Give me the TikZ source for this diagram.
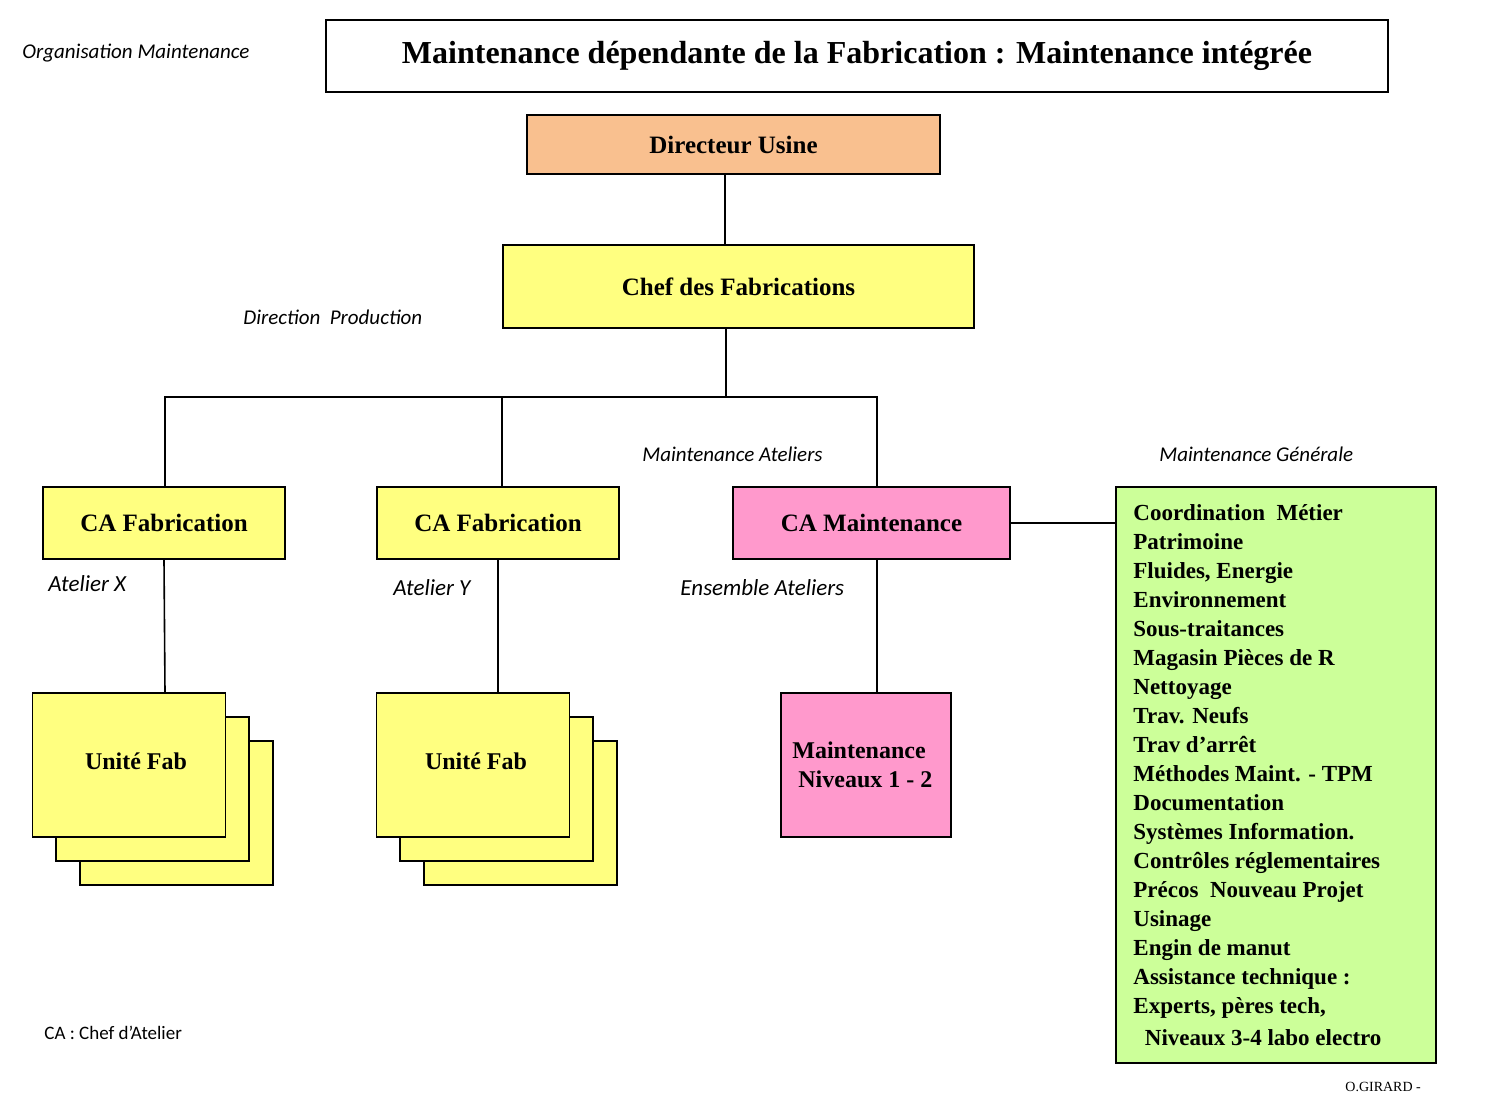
\documentclass[tikz,border=0pt]{standalone}
\usepackage{fontspec}
\setmainfont{Liberation Serif}
\newfontfamily\calfnt{Carlito}
\definecolor{orng}{HTML}{F9C08F}
\definecolor{yel}{HTML}{FFFF80}
\definecolor{pnk}{HTML}{FF99CC}
\definecolor{grn}{HTML}{CCFF99}
\begin{document}
\begin{tikzpicture}[x=0.5pt,y=-0.5pt,
 box/.style={draw=black,line width=0.6pt,inner sep=0pt,font=\bfseries\fontsize{12.5}{14}\selectfont},
 lbl/.style={font=\calfnt\itshape\fontsize{10.5}{12}\selectfont,inner sep=0pt},
 ln/.style={line width=0.8pt}]
\useasboundingbox[fill=white] (0,0) rectangle (1500,1105);
\node[draw,line width=0.6pt,minimum width=531pt,minimum height=36pt,font=\bfseries\fontsize{16}{18}\selectfont,inner sep=0pt] (title) at (857,56) {Maintenance dépendante de la Fabrication : Maintenance intégrée};
\node[lbl,anchor=west] (org) at (22,53) {Organisation Maintenance};
\node[box,fill=orng,minimum width=206.5pt,minimum height=29.5pt] (dir) at (733.5,144.5) {Directeur Usine};
\node[box,fill=yel,minimum width=235.5pt,minimum height=41.5pt] (chef) at (738.5,286.5) {Chef des Fabrications};
\node[lbl,anchor=west] (dp) at (243,317) {Direction\ \ Production};
\node[box,fill=yel,minimum width=121pt,minimum height=36pt] (ca1) at (164,523) {CA Fabrication};
\node[box,fill=yel,minimum width=121pt,minimum height=36pt] (ca2) at (498,523) {CA Fabrication};
\node[box,fill=pnk,minimum width=138.5pt,minimum height=36pt] (cam) at (871.5,523) {CA Maintenance};
\node[lbl,anchor=west] (ma) at (642,454) {Maintenance Ateliers};
\node[lbl,anchor=west] (mg) at (1159,454) {Maintenance Générale};
\node[lbl,anchor=west,font=\calfnt\itshape\fontsize{11.5}{12}\selectfont] (ax) at (48,584) {Atelier X};
\node[lbl,anchor=west,font=\calfnt\itshape\fontsize{11.5}{12}\selectfont] (ay) at (393,588) {Atelier Y};
\node[lbl,anchor=west,font=\calfnt\itshape\fontsize{11.5}{12}\selectfont] (ea) at (680,588) {Ensemble Ateliers};
% stacks
\foreach \nm/\x in {a/33,b/377}{
 \node[box,fill=yel,minimum width=96.5pt,minimum height=72pt] (\nm3) at (\x+143.5,813) {};
 \node[box,fill=yel,minimum width=96.5pt,minimum height=72pt] (\nm2) at (\x+119.5,789) {};
 \node[box,fill=yel,minimum width=96.5pt,minimum height=72pt] (\nm1) at (\x+96,765) {};
}
\node[font=\bfseries\fontsize{12}{14}\selectfont] (u1) at (136,761) {Unité Fab};
\node[font=\bfseries\fontsize{12}{14}\selectfont] (u2) at (476,761) {Unité Fab};
\node[box,fill=pnk,minimum width=85pt,minimum height=72pt] (mn) at (866,765) {};
\node[font=\bfseries\fontsize{12}{14.5}\selectfont,align=left,anchor=west,inner sep=0pt] (mnt) at (792,765) {Maintenance\\\ Niveaux 1 - 2};
\node[box,fill=grn,minimum width=160pt,minimum height=288pt] (gen) at (1276,775) {};
\node[font=\bfseries\fontsize{11.5}{14.5}\selectfont,align=left,anchor=north west,inner sep=0pt] (gent) at (1133,504) {Coordination\ \ Métier\\Patrimoine\\Fluides, Energie\\Environnement\\Sous-traitances\\Magasin Pièces de R\\Nettoyage\\Trav. Neufs\\Trav d’arrêt\\Méthodes Maint. - TPM\\Documentation\\Systèmes Information.\\Contrôles réglementaires\\Précos\ \ Nouveau Projet\\Usinage\\Engin de manut\\Assistance technique :\\Experts, pères tech,\\[1.5pt]\ \ Niveaux 3-4 labo electro};
\node[lbl,anchor=west,font=\calfnt\fontsize{9.5}{11}\selectfont] (ca) at (44,1033) {CA : Chef d’Atelier};
\node[anchor=west,inner sep=0pt,font=\fontsize{7}{8}\selectfont] (og) at (1345,1087) {O.GIRARD -};
% connectors
\coordinate (j) at (726,397);
\draw[ln] (dir.south -| 725,0) -- (chef.north -| 725,0);
\draw[ln] (chef.south -| 726,0) -- (j);
\draw[ln] (ca1.north -| 165,0) -- (165,397) -- (877,397) -- (cam.north -| 877,0);
\draw[ln] (502,397) -- (ca2.north -| 502,0);
\draw[ln] (ca1.south) -- (a1.north -| 165,0);
\draw[ln] (ca2.south) -- (b1.north -| 498,0);
\draw[ln] (cam.south -| 877,0) -- (mn.north -| 877,0);
\draw[ln] (cam.east) -- (gen.west |- cam.east);
\end{tikzpicture}
\end{document}
